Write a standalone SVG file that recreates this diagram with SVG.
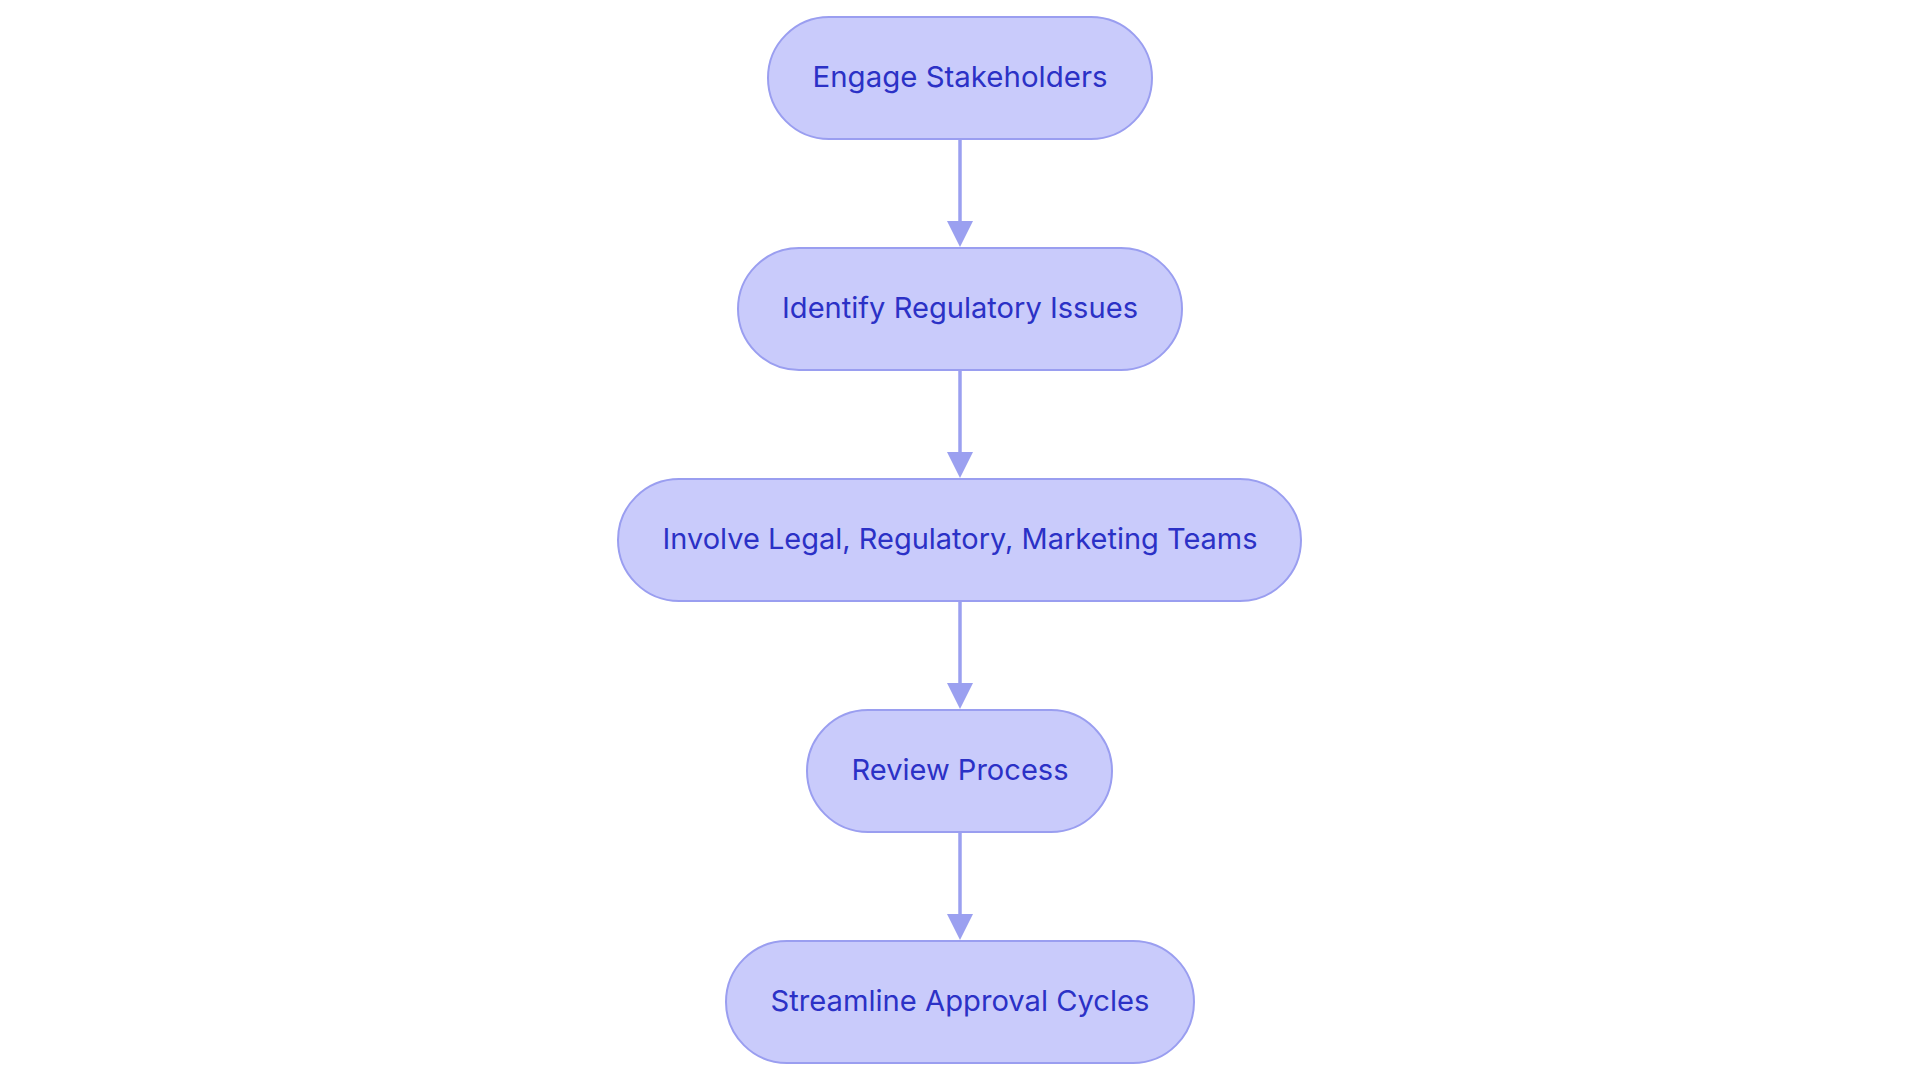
<svg xmlns="http://www.w3.org/2000/svg" width="1920" height="1083" viewBox="0 0 1920 1083">
<style>
.node rect{fill:#c9cbfb;stroke:#9a9ef0;stroke-width:2}
.node text{font-family:Inter,"Noto Sans",sans-serif;font-size:29px;fill:#2b31c6;text-anchor:middle}
.edge{stroke:#9ba0f0;stroke-width:3.5;fill:none}
.head{fill:#9ba0f0}
</style>
<rect width="1920" height="1083" fill="#ffffff"/>
<g id="connectors">
<path class="edge" d="M960,139 V222"/><path class="head" d="M947,221 L973,221 L960,247 z"/>
<path class="edge" d="M960,370 V453"/><path class="head" d="M947,452 L973,452 L960,478 z"/>
<path class="edge" d="M960,601 V684"/><path class="head" d="M947,683 L973,683 L960,709 z"/>
<path class="edge" d="M960,832 V915"/><path class="head" d="M947,914 L973,914 L960,940 z"/>
</g>
<g id="node1" class="node"><rect x="768" y="17" width="384" height="122" rx="61"/><text x="960" y="87" textLength="295" lengthAdjust="spacingAndGlyphs">Engage Stakeholders</text></g>
<g id="node2" class="node"><rect x="738" y="248" width="444" height="122" rx="61"/><text x="960" y="318" textLength="356" lengthAdjust="spacingAndGlyphs">Identify Regulatory Issues</text></g>
<g id="node3" class="node"><rect x="618" y="479" width="683" height="122" rx="61"/><text x="960" y="549" textLength="595" lengthAdjust="spacingAndGlyphs">Involve Legal, Regulatory, Marketing Teams</text></g>
<g id="node4" class="node"><rect x="807" y="710" width="305" height="122" rx="61"/><text x="960" y="780" textLength="217" lengthAdjust="spacingAndGlyphs">Review Process</text></g>
<g id="node5" class="node"><rect x="726" y="941" width="468" height="122" rx="61"/><text x="960" y="1011" textLength="379" lengthAdjust="spacingAndGlyphs">Streamline Approval Cycles</text></g>
</svg>
